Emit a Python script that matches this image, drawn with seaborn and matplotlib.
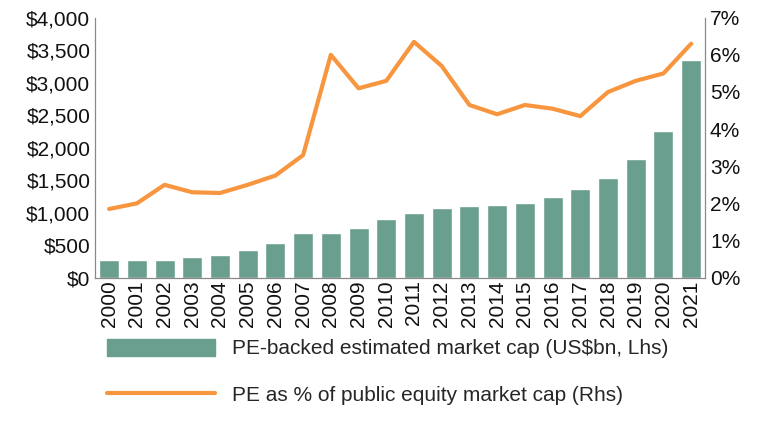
import matplotlib
matplotlib.use("Agg")
import matplotlib.pyplot as plt
import seaborn as sns
import pandas as pd
from matplotlib.ticker import FuncFormatter

years = [str(y) for y in range(2000, 2022)]
market_cap = [270, 265, 265, 320, 350, 430, 540, 680, 680, 760, 900, 990, 1070, 1100, 1120, 1150, 1240, 1370, 1540, 1820, 2260, 3350]
pe_share = [1.85, 2.0, 2.5, 2.3, 2.28, 2.5, 2.75, 3.3, 6.0, 5.1, 5.3, 6.35, 5.7, 4.65, 4.4, 4.65, 4.55, 4.35, 5.0, 5.3, 5.5, 6.3]

df = pd.DataFrame({"year": years, "cap": market_cap, "pct": pe_share})
sns.set_style("white")
plt.rcParams['font.family'] = ['Liberation Sans', 'DejaVu Sans']

fig = plt.figure(figsize=(7.68, 4.22), dpi=100)
ax = fig.add_axes([0.124, 0.342, 0.794, 0.616])
sns.barplot(data=df, x="year", y="cap", color="#6a9e8e", width=0.72, ax=ax, saturation=1)
ax.set_ylim(0, 4000)
ax.set_yticks(range(0, 4001, 500))
ax.yaxis.set_major_formatter(FuncFormatter(lambda v, p: f"${v:,.0f}"))
ax.set_xlabel(""); ax.set_ylabel("")
ax.tick_params(axis="x", rotation=90, labelsize=15, length=0, pad=2, labelcolor="#111111")
ax.tick_params(axis="y", labelsize=15, length=0, labelcolor="#111111")
ax.set_xlim(-0.5, len(years) - 0.5)

ax2 = ax.twinx()
ax2.plot(range(len(years)), pe_share, color="#f7963e", lw=3)
ax2.set_ylim(0, 7)
ax2.set_yticks(range(0, 8))
ax2.yaxis.set_major_formatter(FuncFormatter(lambda v, p: f"{v:.0f}%"))
ax2.tick_params(axis="y", labelsize=15, length=0, labelcolor="#111111")
for a in (ax, ax2):
    for s in a.spines.values():
        s.set_color("#888888")
    a.spines["top"].set_visible(False)

from matplotlib.patches import Patch
from matplotlib.lines import Line2D
handles = [Patch(color="#6a9e8e"), Line2D([0], [0], color="#f7963e", lw=3)]
labels = ["PE-backed estimated market cap (US$bn, Lhs)", "PE as % of public equity market cap (Rhs)"]
fig.legend(handles, labels, loc="lower left", bbox_to_anchor=(0.115, -0.005), frameon=False,
           fontsize=15, handlelength=5.2, handleheight=0.9, labelspacing=1.3)
fig.savefig("out.png", dpi=100)
